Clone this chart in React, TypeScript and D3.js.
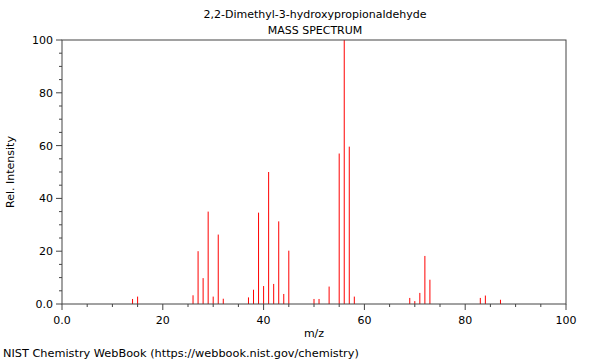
import React from "react";
import * as d3 from "d3";

const mzValues = [14, 15, 26, 27, 28, 29, 30, 31, 32, 37, 38, 39, 40, 41, 42, 43, 44, 45, 50, 51, 53, 55, 56, 57, 58, 69, 70, 71, 72, 73, 83, 84, 87];
const intensities = [1.9, 2.8, 3.3, 20, 9.8, 35, 2.8, 26.3, 2.0, 2.5, 5.4, 34.6, 6.8, 50, 7.6, 31.3, 3.8, 20.2, 1.9, 1.9, 6.6, 57, 100, 59.6, 2.8, 2.3, 1.1, 4.2, 18.2, 9.2, 2.3, 3.2, 1.6];
const xMajorTicks = [0, 20, 40, 60, 80, 100];
const xTickLabels = ["0.0", "20", "40", "60", "80", "100"];
const yMajorTicks = [0, 20, 40, 60, 80, 100];
const yTickLabels = ["0.0", "20", "40", "60", "80", "100"];
const minorStep = 5;

const W = 600, H = 360;
const left = 62, right = 566, top = 40, bottom = 304;
const font = "DejaVu Sans, sans-serif";

export default function App() {
  const x = d3.scaleLinear().domain([0, 100]).range([left, right]);
  const y = d3.scaleLinear().domain([0, 100]).range([bottom, top]);
  const minor = d3.range(0, 100 + 0.001, minorStep);
  const axisColor = "#444";
  return (
    <svg width={W} height={H} style={{ position: "absolute", left: 0, top: 0, background: "#fff" }}>
      <rect x={0} y={0} width={W} height={H} fill="#fff" />
      {mzValues.map((m, i) => (
        <line key={"p" + i} x1={x(m)} x2={x(m)} y1={y(0)} y2={y(intensities[i])} stroke="#ff0000" strokeWidth={1} />
      ))}
      <rect x={left} y={top} width={right - left} height={bottom - top} fill="none" stroke={axisColor} strokeWidth={1} />
      {minor.map((v) => (
        <line key={"xm" + v} x1={x(v)} x2={x(v)} y1={bottom} y2={bottom + (v % 20 === 0 ? 6 : 3)} stroke={axisColor} />
      ))}
      {minor.map((v) => (
        <line key={"ym" + v} x1={left} x2={left - (v % 20 === 0 ? 6 : 3)} y1={y(v)} y2={y(v)} stroke={axisColor} />
      ))}
      {xMajorTicks.map((v, i) => (
        <text key={"xl" + v} x={x(v)} y={bottom + 20} textAnchor="middle" fontFamily={font} fontSize={11} fill="#000">{xTickLabels[i]}</text>
      ))}
      {yMajorTicks.map((v, i) => (
        <text key={"yl" + v} x={left - 9} y={y(v) + 4} textAnchor="end" fontFamily={font} fontSize={11} fill="#000">{yTickLabels[i]}</text>
      ))}
      <text x={315} y={18} textAnchor="middle" fontFamily={font} fontSize={11} fill="#000">2,2-Dimethyl-3-hydroxypropionaldehyde</text>
      <text x={315} y={34} textAnchor="middle" fontFamily={font} fontSize={11} fill="#000">MASS SPECTRUM</text>
      <text x={314} y={337} textAnchor="middle" fontFamily={font} fontSize={11} fill="#000">m/z</text>
      <text transform={`translate(14,${(top + bottom) / 2}) rotate(-90)`} textAnchor="middle" fontFamily={font} fontSize={11} fill="#000">Rel. Intensity</text>
      <text x={3} y={357} fontFamily={font} fontSize={11.3} fill="#000">NIST Chemistry WebBook (https://webbook.nist.gov/chemistry)</text>
    </svg>
  );
}
